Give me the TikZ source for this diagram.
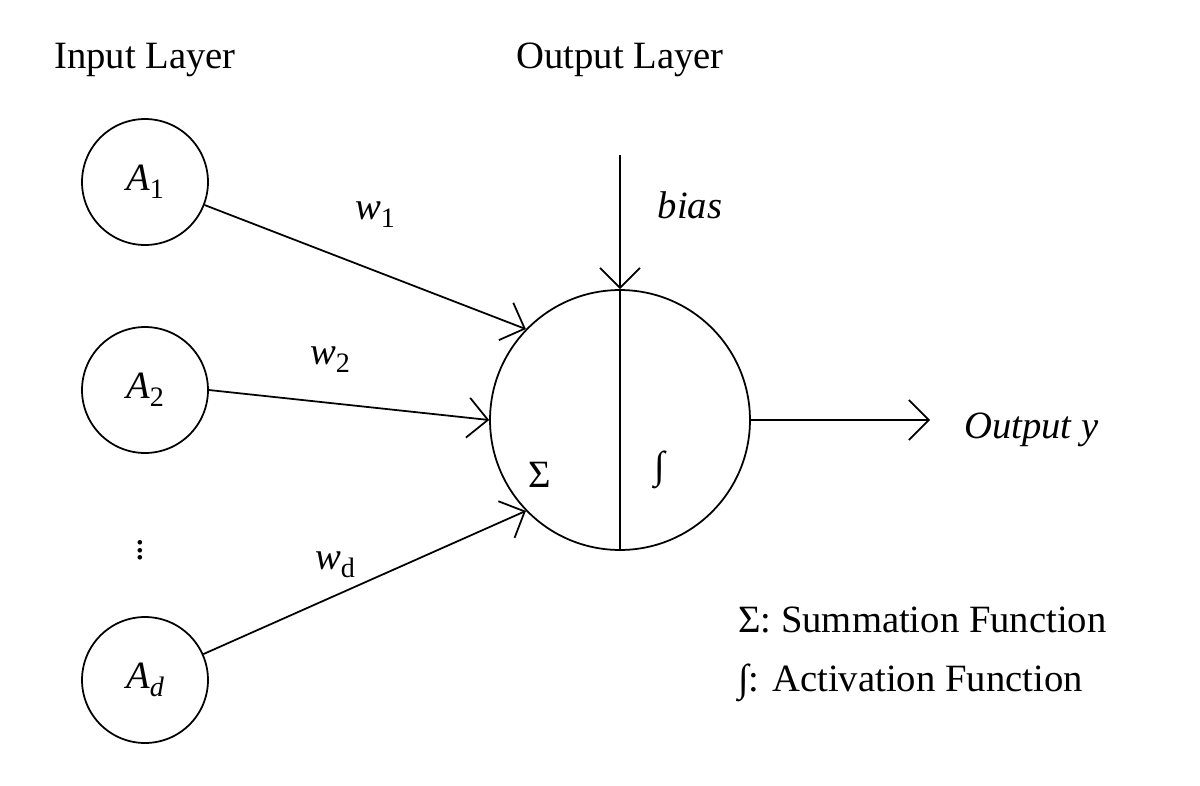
\documentclass[tikz,border=0pt]{standalone}
\usepackage{fontspec}
\setmainfont{Liberation Serif}
\usetikzlibrary{arrows.meta}
\newcommand{\sub}[2]{\textit{#1}\raisebox{-0.45ex}{\fontsize{16}{18}\selectfont #2}}
\begin{document}
\begin{tikzpicture}[x=0.02cm,y=-0.02cm,
  every node/.style={font=\fontsize{22}{26}\selectfont},
  neuron/.style={draw,circle,line width=1pt,minimum size=2.52cm,inner sep=0pt},
  big/.style={draw,circle,line width=1pt,minimum size=5.2cm,inner sep=0pt},
  link/.style={line width=1pt,-{Straight Barb[length=4mm,width=8mm,line width=1pt]}}]
\useasboundingbox (0,0) rectangle (1200,785);
\node at (145,60) {Input Layer};
\node at (620,60) {Output Layer};
\node[neuron] (a1) at (145,182) {\sub{A}{1}};
\node[neuron] (a2) at (145,390) {\sub{A}{2}};
\node[neuron] (ad) at (145,680) {\sub{A}{\textit{d}}};
\node[inner sep=0pt] (dots) at (140,545) {$\vdots$};
\node[big] (o) at (620,420) {};
\draw[line width=1pt] (o.north) -- (o.south);
\node at (540,475) {Σ};
\node at (660,470) {∫};
\coordinate (b) at (620,155);
\node at (690,205) {\itshape bias};
\draw[link] (b) -- (o.north);
\draw[link] (a1) -- (o.136);
\draw[link] (a2.east) -- (o.west);
\draw[link] (ad) -- (o.224);
\node at (375,215) {\sub{w}{1}};
\node at (330,360) {\sub{w}{2}};
\node at (335,565) {\sub{w}{d}};
\coordinate (e) at (930,420);
\draw[link] (o.east) -- (e);
\node[anchor=west] at (958,430) {\itshape Output y};
\node[anchor=west] at (732,620) {Σ: Summation Function};
\node[anchor=west] at (732,683) {∫: Activation Function};
\end{tikzpicture}
\end{document}
